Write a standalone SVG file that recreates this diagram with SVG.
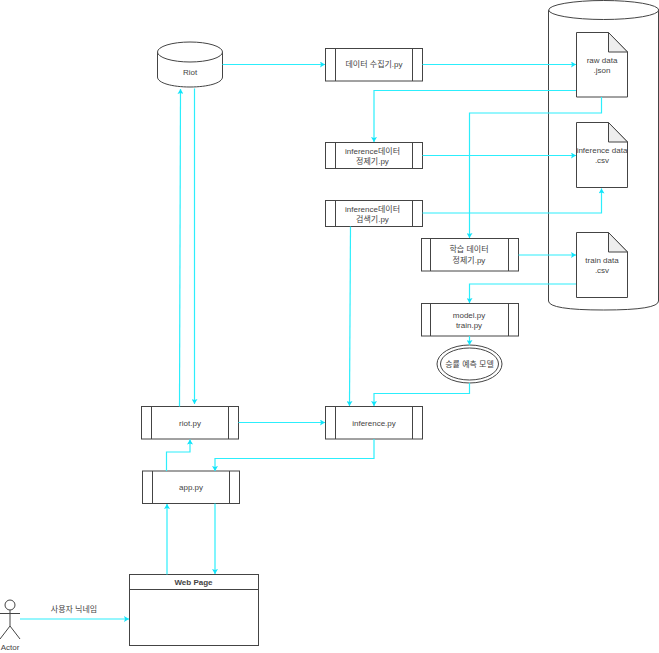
<svg xmlns="http://www.w3.org/2000/svg" width="659" height="653" viewBox="0 0 659 653">
<style>
.s{fill:#fff;stroke:#444;stroke-width:1}
.n{fill:none;stroke:#444;stroke-width:1}
.f{fill:#eee;stroke:#444;stroke-width:1}
.t{font-family:"Liberation Sans","Noto Sans CJK KR",sans-serif;font-size:8px;fill:#444;text-anchor:middle}
.c{fill:none;stroke:#2ceefc;stroke-width:1.2;marker-end:url(#a)}
</style>
<defs><marker id="a" markerUnits="userSpaceOnUse" markerWidth="6" markerHeight="6" refX="5" refY="3" orient="auto"><path d="M0 0L5 3L0 6L1 3Z" fill="#10e4fa"/></marker></defs>
<rect width="659" height="653" fill="#fff"/>
<g id="storage"><path class="s" d="M548.5 10V301Q549 310 603.7 310Q658.5 310 658.5 301V10"/><ellipse class="s" cx="603.7" cy="10" rx="55" ry="9.5"/></g>
<g id="riot-db"><path class="s" d="M157.5 52V77C157.5 83 172 87 190 87S222.5 83 222.5 77V52"/><ellipse class="s" cx="190" cy="52" rx="32.5" ry="10"/><text class="t" x="190" y="75">Riot</text></g>
<g id="collector"><rect class="s" x="325.5" y="48.5" width="97" height="32.5"/><path class="n" d="M335.5 48.5V81M412.5 48.5V81"/><text class="t" x="374" y="67">데이터 수집기.py</text></g>
<g id="inf-clean"><rect class="s" x="325.5" y="142.5" width="97" height="26"/><path class="n" d="M335.5 142.5V168.5M412.5 142.5V168.5"/><text class="t" x="372.500" y="153.500">inference데이터</text><text class="t" x="372.500" y="163.500">정제기.py</text></g>
<g id="inf-search"><rect class="s" x="325.5" y="200.5" width="97" height="26"/><path class="n" d="M335.5 200.5V226.500M412.5 200.5V226.5"/><text class="t" x="372.500" y="211.500">inference데이터</text><text class="t" x="372.500" y="221.500">검색기.py</text></g>
<g id="train-clean"><rect class="s" x="421.5" y="238.5" width="97" height="32.5"/><path class="n" d="M430.5 238.5V271M508.5 238.5V271"/><text class="t" x="469" y="252">학습 데이터</text><text class="t" x="469" y="263">정제기.py</text></g>
<g id="model"><rect class="s" x="421.5" y="303.5" width="97" height="32.5"/><path class="n" d="M430.5 303.5V336M508.5 303.5V336"/><text class="t" x="469" y="318">model.py</text><text class="t" x="469" y="327.500">train.py</text></g>
<g id="win-model"><ellipse class="s" cx="469.5" cy="364" rx="32.5" ry="19"/><ellipse class="n" cx="469.5" cy="364" rx="29" ry="16"/><text class="t" x="469.5" y="366.500">승률 예측 모델</text></g>
<g id="raw-doc"><path class="s" d="M576.5 32.5H608.5L627.5 52V97H576.5Z"/><path class="f" d="M608.5 32.5L627.5 52H608.5Z"/><text class="t" x="602" y="63">raw data</text><text class="t" x="602" y="73">.json</text></g>
<g id="inf-doc"><path class="s" d="M576.5 122.5H608.5L627.5 142V187.5H576.5Z"/><path class="f" d="M608.5 122.5L627.5 142H608.5Z"/><text class="t" x="602" y="153">inference data</text><text class="t" x="602" y="163">.csv</text></g>
<g id="train-doc"><path class="s" d="M576.5 232.5H608.5L627.5 252V297.5H576.5Z"/><path class="f" d="M608.5 232.5L627.5 252H608.5Z"/><text class="t" x="602" y="263">train data</text><text class="t" x="602" y="273">.csv</text></g>
<g id="riot-py"><rect class="s" x="141.5" y="406.5" width="97" height="32.5"/><path class="n" d="M151.5 406.5V439M228.5 406.5V439"/><text class="t" x="190" y="425.500">riot.py</text></g>
<g id="inference-py"><rect class="s" x="325.5" y="406.5" width="97" height="32.5"/><path class="n" d="M335.5 406.5V439M412.5 406.5V439"/><text class="t" x="374" y="425.500">inference.py</text></g>
<g id="app-py"><rect class="s" x="142.5" y="471" width="97" height="32.5"/><path class="n" d="M152.5 471V503.5M229.5 471V503.5"/><text class="t" x="191" y="490">app.py</text></g>
<g id="web-page"><rect class="s" x="129.5" y="574.5" width="129" height="71"/><path class="n" d="M129.5 589.5H258.5"/><text class="t" x="193.500" y="585" font-weight="bold">Web Page</text></g>
<g id="actor"><circle class="s" cx="10" cy="605" r="5"/><path class="n" d="M10 610V626M0 613.5H20M10 626L0 639M10 626L20 639"/><text class="t" x="10" y="650">Actor</text></g>
<g id="connectors">
<path class="c" d="M222.5 64.5H325"/>
<path class="c" d="M422.5 64.5H576"/>
<path class="c" d="M576 90.5H374V142"/>
<path class="c" d="M601.5 97V113H469.5V238"/>
<path class="c" d="M422.5 155.5H576"/>
<path class="c" d="M422.5 213H601.5V188.5"/>
<path class="c" d="M350.5 226.5L349.5 406"/>
<path class="c" d="M518.5 255H576"/>
<path class="c" d="M576 284H469.5V303"/>
<path class="c" d="M469.5 336V345"/>
<path class="c" d="M469.5 383V393.5H374V406"/>
<path class="c" d="M179.5 406.5L180.5 89"/>
<path class="c" d="M194.5 88.5V404"/>
<path class="c" d="M238.5 422.5H325"/>
<path class="c" d="M374 439V458.5H215V471"/>
<path class="c" d="M166.5 471V452H190V439.5"/>
<path class="c" d="M167 574.5V504"/>
<path class="c" d="M215 503.5V574"/>
<path class="c" d="M20 619H129"/>
</g>
<text class="t" x="74" y="612">사용자 닉네임</text>
</svg>
